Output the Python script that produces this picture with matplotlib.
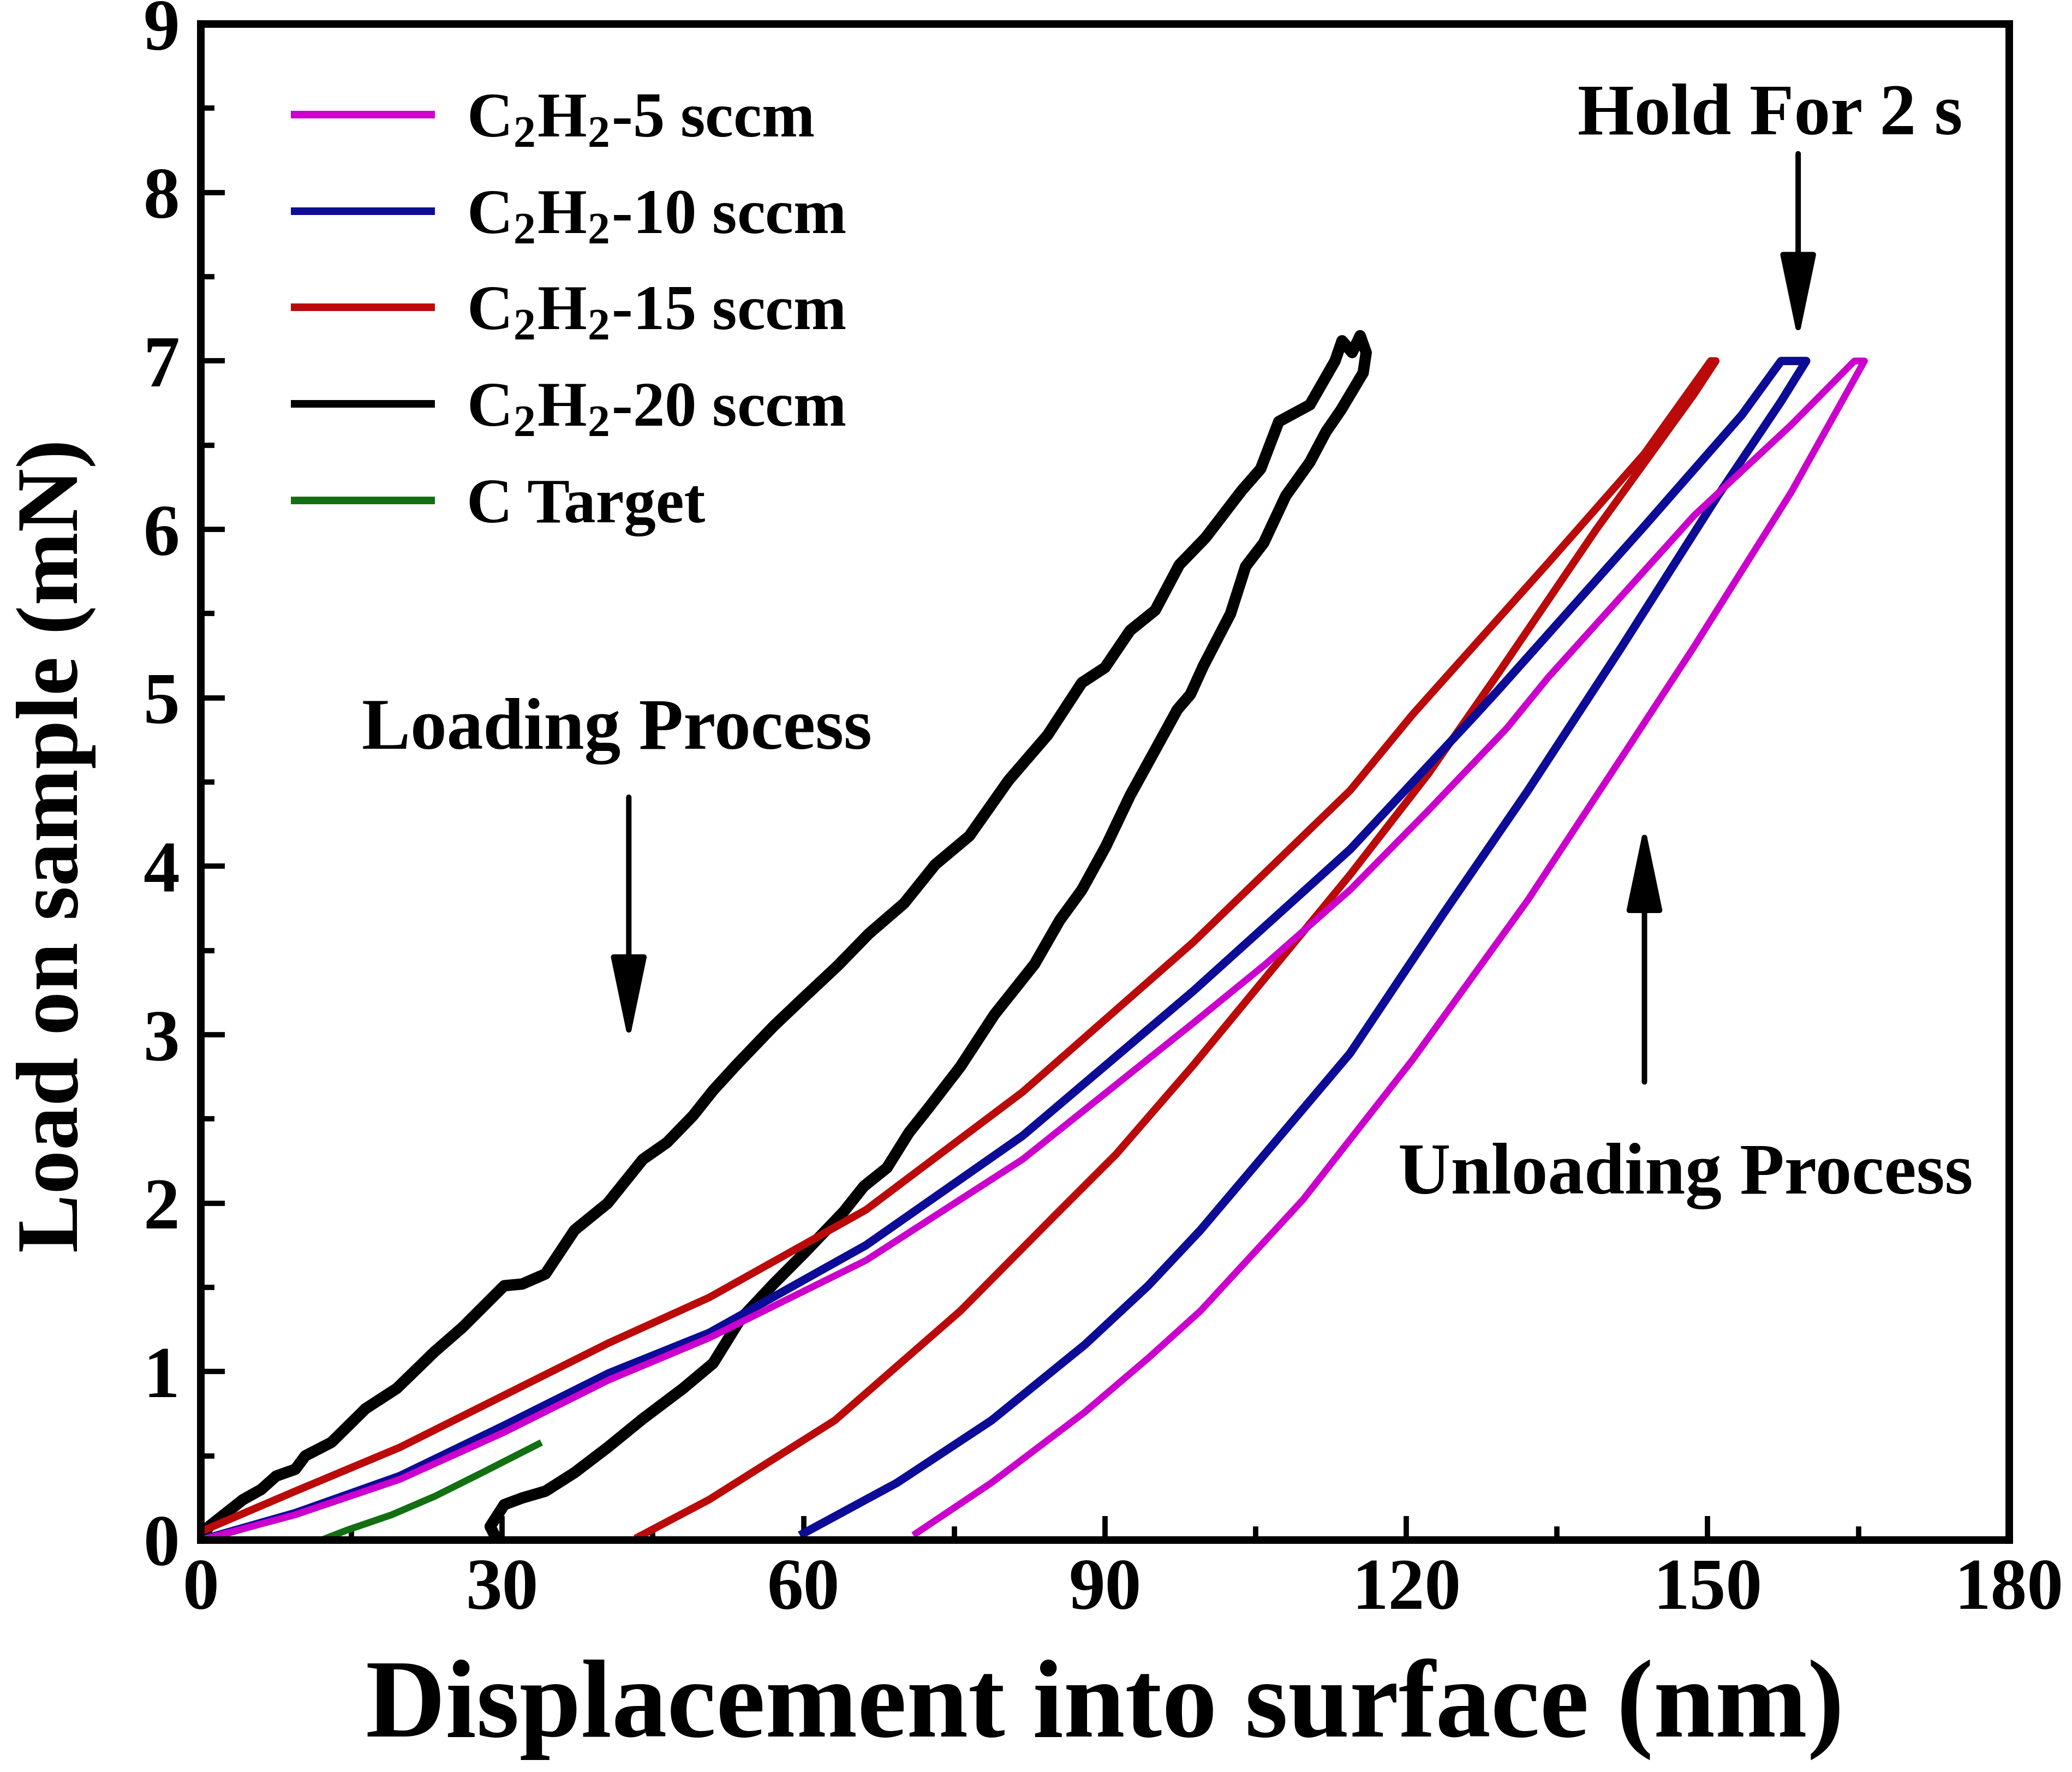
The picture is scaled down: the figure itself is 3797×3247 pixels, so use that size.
import matplotlib
matplotlib.use("Agg")
import matplotlib.pyplot as plt
from matplotlib.ticker import MultipleLocator

plt.rcParams["font.family"] = ["Liberation Serif", "DejaVu Serif"]
plt.rcParams["font.weight"] = "bold"
plt.rcParams["mathtext.fontset"] = "custom"
plt.rcParams["mathtext.rm"] = "Liberation Serif:bold"
plt.rcParams["mathtext.bf"] = "Liberation Serif:bold"

# C2H2-5 sccm (loading -> hold -> unloading)
h5 = [0, 9.4, 19.8, 30.2, 40.6, 50.6, 66.2, 81.8, 98.8, 106.0, 114.4, 122.0, 130.0, 134.1, 148.6,
      158.3, 164.6, 165.6, 158.3, 148.6, 141.8, 132.1, 120.6, 109.7, 99.5, 94.3, 88.0, 78.7, 71.2]
p5 = [0, 0.15, 0.36, 0.64, 0.95, 1.20, 1.66, 2.26, 3.07, 3.42, 3.86, 4.32, 4.82, 5.12, 6.08,
      6.62, 7.0, 7.0, 6.22, 5.30, 4.68, 3.80, 2.85, 2.02, 1.36, 1.08, 0.76, 0.34, 0.04]

# C2H2-10 sccm
h10 = [0, 9.4, 19.8, 30.2, 40.6, 50.6, 66.2, 81.8, 98.8, 114.4, 126.9, 129.2, 143.7, 153.4, 157.3,
       159.8, 157.3, 151.0, 141.3, 132.1, 123.7, 114.4, 104.9, 99.5, 94.3, 88.0, 78.7, 69.3, 60.0]
p10 = [0, 0.16, 0.38, 0.68, 0.99, 1.23, 1.75, 2.40, 3.26, 4.10, 4.90, 5.05, 6.02, 6.68, 7.0,
       7.0, 6.76, 6.20, 5.29, 4.45, 3.72, 2.89, 2.22, 1.84, 1.51, 1.16, 0.71, 0.34, 0.04]

# C2H2-15 sccm
h15 = [0, 9.4, 19.8, 30.2, 40.6, 50.6, 66.2, 81.8, 98.8, 114.4, 120.6, 134.1, 143.7, 150.3,
       150.8, 148.6, 138.9, 129.2, 122.2, 114.4, 108.2, 98.8, 91.1, 84.9, 75.6, 63.1, 50.6, 43.6]
p15 = [0.05, 0.29, 0.55, 0.86, 1.17, 1.44, 1.96, 2.66, 3.55, 4.45, 4.90, 5.80, 6.45, 7.0,
       7.0, 6.80, 6.00, 5.15, 4.55, 3.95, 3.50, 2.82, 2.29, 1.92, 1.36, 0.71, 0.24, 0.02]

# C2H2-20 sccm (noisy trace)
h20 = [0, 0.8, 2.5, 4.2, 6.0, 7.5, 9.4, 10.4, 13.0, 16.4, 19.5, 23.3, 26.0, 30.2, 32.0, 34.3,
       37.2, 40.5, 44.0, 46.4, 49.0, 51.0, 53.3, 57.0, 60.0, 63.4, 66.5, 70.0, 73.1, 76.5,
       80.4, 84.3, 87.7, 90.0, 92.5, 95.0, 97.4, 100.0, 103.6, 105.5, 107.3, 110.4, 112.9,
       113.6, 114.6, 115.4, 116.0, 115.7, 113.5, 112.0, 110.4, 108.0, 105.8, 104.0, 102.5,
       99.8, 98.5, 97.2, 94.9, 92.5, 90.1, 87.7, 85.5, 83.0, 79.0, 75.6, 72.5, 70.5, 68.3,
       66.0, 64.0, 60.0, 57.0, 53.7, 51.0, 48.0, 44.0, 40.5, 37.2, 34.3, 32.0, 30.2, 28.8, 29.5]
p20 = [0, 0.08, 0.16, 0.24, 0.30, 0.38, 0.42, 0.50, 0.58, 0.78, 0.90, 1.12, 1.26, 1.51, 1.52, 1.58,
       1.84, 2.00, 2.26, 2.36, 2.52, 2.67, 2.82, 3.05, 3.22, 3.41, 3.60, 3.78, 4.01, 4.18,
       4.51, 4.78, 5.09, 5.18, 5.40, 5.52, 5.79, 5.95, 6.23, 6.36, 6.64, 6.74, 7.00,
       7.12, 7.05, 7.15, 7.05, 6.93, 6.71, 6.58, 6.40, 6.20, 5.92, 5.78, 5.50,
       5.19, 5.02, 4.93, 4.68, 4.42, 4.12, 3.86, 3.68, 3.42, 3.12, 2.81, 2.57, 2.42, 2.21,
       2.10, 1.95, 1.70, 1.52, 1.31, 1.05, 0.90, 0.72, 0.55, 0.40, 0.29, 0.25, 0.21, 0.08, 0.0]

# C target
hC = [12.0, 14.6, 19.0, 23.3, 28.0, 33.6]
pC = [0.0, 0.06, 0.15, 0.26, 0.40, 0.57]

labels = ["C$_2$H$_2$-5 sccm", "C$_2$H$_2$-10 sccm", "C$_2$H$_2$-15 sccm",
          "C$_2$H$_2$-20 sccm", "C Target"]
colors = ["#cc00cc", "#0c0c96", "#bb0a0a", "black", "#127012"]

fig = plt.figure(figsize=(18.99, 16.235), dpi=200)
ax = fig.add_axes([0.0969, 0.1309, 0.8725, 0.8555])

l20, = ax.plot(h20, p20, color=colors[3], lw=7.5)
lC, = ax.plot(hC, pC, color=colors[4], lw=4.5)
l15, = ax.plot(h15, p15, color=colors[2], lw=5)
l10, = ax.plot(h10, p10, color=colors[1], lw=5.5)
l5, = ax.plot(h5, p5, color=colors[0], lw=4.5)

ax.set_xlim(0, 180)
ax.set_ylim(0, 9)
ax.xaxis.set_major_locator(MultipleLocator(30))
ax.xaxis.set_minor_locator(MultipleLocator(15))
ax.yaxis.set_major_locator(MultipleLocator(1))
ax.yaxis.set_minor_locator(MultipleLocator(0.5))
ax.tick_params(which="both", direction="in", width=3.5, labelsize=48)
ax.tick_params(which="major", length=16)
ax.tick_params(which="minor", length=9)
ax.tick_params(axis="x", pad=12)
ax.tick_params(axis="y", pad=14)
for s in ax.spines.values():
    s.set_linewidth(5)

ax.set_xlabel("Displacement into surface (nm)", fontsize=73, fontweight="bold", va="top")
ax.set_ylabel("Load on sample (mN)", fontsize=58, fontweight="bold")
ax.xaxis.set_label_coords(0.5, -0.078)
ax.yaxis.set_label_coords(-0.058, 0.458)

leg = ax.legend([l5, l10, l15, l20, lC], labels, loc="upper left",
                bbox_to_anchor=(0.052, 0.955), frameon=False, fontsize=42,
                handlelength=2.14, handletextpad=0.56, labelspacing=0.6,
                borderaxespad=0, borderpad=0)
for line in leg.get_lines():
    line.set_linewidth(5)

arrow = dict(arrowstyle="-|>,head_length=1.2,head_width=0.25", color="black",
             lw=3.6, mutation_scale=40, shrinkA=0, shrinkB=0)
ax.text(41.4, 4.8, "Loading Process", fontsize=48, fontweight="bold", ha="center", va="center")
ax.annotate("", xy=(42.6, 2.95), xytext=(42.6, 4.41), arrowprops=arrow)
ax.text(156.2, 8.45, "Hold For 2 s", fontsize=48, fontweight="bold", ha="center", va="center")
ax.annotate("", xy=(159.0, 7.12), xytext=(159.0, 8.23), arrowprops=arrow)
ax.text(147.8, 2.16, "Unloading Process", fontsize=48, fontweight="bold", ha="center", va="center")
ax.annotate("", xy=(143.7, 4.25), xytext=(143.7, 2.72), arrowprops=arrow)

fig.savefig("out.png", dpi=200)
